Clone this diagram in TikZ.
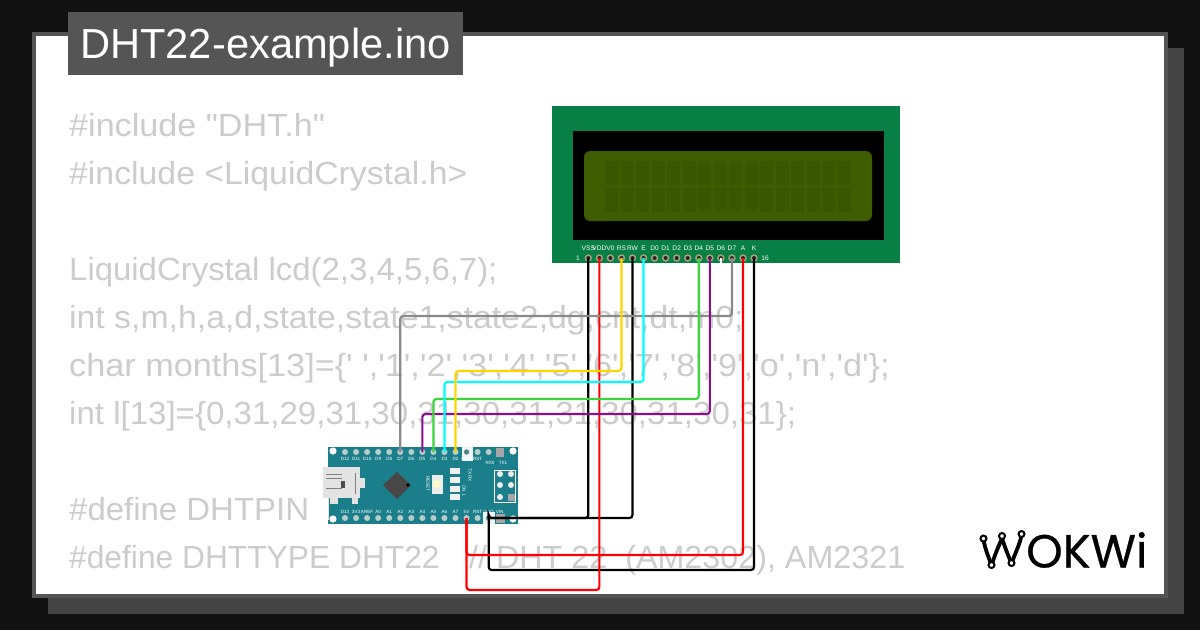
\documentclass[tikz,border=0pt]{standalone}
\usepackage{fontspec}
\setmainfont{Liberation Sans}
\newfontfamily\codefont{Liberation Sans}
\newfontfamily\logofont[FakeBold=0.6]{Poppins}
\definecolor{bgdark}{HTML}{111111}
\definecolor{shadowgray}{HTML}{444444}
\definecolor{framegray}{HTML}{555555}
\definecolor{codegray}{HTML}{CCCCCC}
\definecolor{lcdgreen}{HTML}{087F45}
\definecolor{lcdscreen}{HTML}{3E5C00}
\definecolor{lcdchar}{HTML}{3A5700}
\definecolor{padgold}{HTML}{A9A27C}
\definecolor{nanoteal}{HTML}{1A7F8A}
\definecolor{nanopadc}{HTML}{B9CCC9}
\definecolor{wiregray}{HTML}{8A8A8A}
\definecolor{wirepurple}{HTML}{8B0F8B}
\definecolor{wiregreen}{HTML}{3CD43C}
\definecolor{wireyellow}{HTML}{FFD500}
\definecolor{wirecyan}{HTML}{00FFFF}
\definecolor{wirered}{HTML}{FF0000}
\newcommand\cx[2]{\scalebox{#1}[1]{#2}}
\tikzset{
  codeline/.style={anchor=base west,inner sep=0pt,text=codegray,font=\codefont\fontsize{32}{32}\selectfont},
  wire/.style={line width=2.2pt,rounded corners=3pt},
  lcdlabel/.style={text=white,inner sep=0pt,font=\fontsize{6.6}{7}\selectfont},
  nanolabel/.style={text=white,inner sep=0pt,font=\fontsize{4.6}{5}\selectfont},
  lcdpad/.style={circle,fill=padgold,minimum size=7.5pt,inner sep=0pt},
  nanopad/.style={circle,fill=nanopadc,minimum size=6pt,inner sep=0pt},
  logostroke/.style={line width=3.8pt,line cap=round,line join=round}
}
\begin{document}
\begin{tikzpicture}[x=1pt,y=-1pt]
\useasboundingbox (0,0) rectangle (1200,630);
\fill[bgdark] (0,0) rectangle (1200,630);
\fill[shadowgray] (48,48) rectangle (1184,614);
\filldraw[fill=white,draw=framegray,line width=4pt] (34,34) rectangle (1166,596);
% code
\node[codeline] (c1) at (69,136) {\cx{1.067}{\#include "DHT.h"}};
\node[codeline] (c2) at (69,184) {\cx{1.056}{\#include <LiquidCrystal.h>}};
\node[codeline] (c3) at (69,280) {\cx{1.029}{LiquidCrystal lcd(2,3,4,5,6,7);}};
\node[codeline] (c4) at (69,328) {\cx{1.056}{int s,m,h,a,d,state,state1,state2,dg,cnt,dt,m0;}};
\node[codeline] (c5) at (69,376) {\cx{1.0705}{char months[13]=\{' ','1','2','3','4','5','6','7','8','9','o','n','d'\};}};
\node[codeline] (c6) at (69,424) {\cx{1.033}{int l[13]=\{0,31,29,31,30,31,30,31,31,30,31,30,31\};}};
\node[codeline] (c7) at (69,520) {\cx{1.03}{\#define DHTPIN}};
\node[codeline] (c8) at (69,568) {\cx{.992}{\#define DHTTYPE DHT22}};
\node[codeline] (c9) at (469,568) {\cx{1.009}{// DHT 22\ \ (AM2302), AM2321}};
% title
\fill[framegray] (68,12) rectangle (463,75);
\node[anchor=base west,inner sep=0pt,text=white,font=\fontsize{42}{42}\selectfont] (title) at (80,58) {\scalebox{.992}[1]{DHT22-example.ino}};
% LCD
\fill[lcdgreen] (552,106) rectangle (900,263);
\fill[black] (573,131) rectangle (884,240);
\fill[lcdscreen,rounded corners=6pt] (584,151) rectangle (872,221);
\foreach \c in {0,...,15}{
  \fill[lcdchar] ({605+\c*15.5},161) rectangle +(13.3,24);
  \fill[lcdchar] ({605+\c*15.5},188) rectangle +(13.3,23.5);
}
\foreach \i/\lab in {1/VSS,2/VDD,3/V0,4/RS,5/RW,6/E,7/D0,8/D1,9/D2,10/D3,11/D4,12/D5,13/D6,14/D7,15/A,16/K}{
  \node[lcdpad] (lcd\i) at ({588.3+(\i-1)*11.05},258) {};
  \fill[black!85] (lcd\i.center) circle (2pt);
  \node[lcdlabel] (lcdt\i) at ({588.3+(\i-1)*11.05},248.5) {\lab};
}
\node[lcdlabel] (lcdone) at (578,258) {1};
\node[lcdlabel] (lcdsix) at (765,258) {16};
% Nano
\fill[nanoteal] (328,447) rectangle (518,524);
\foreach \p in {(333,451),(513,451),(333,519),(513,519)} \fill[white] \p circle (3.6pt);
\fill[white!92!nanoteal] (462,447) rectangle (473,461);
\fill[white!92!nanoteal] (483,512) rectangle (495,524);
\foreach \i/\lab in {1/D12,2/D11,3/D10,4/D9,5/D8,6/D7,7/D6,8/D5,9/D4,10/D3,11/D2,12/GND,13/RST,14/,15/}{
  \node[nanopad] (top\i) at ({345+(\i-1)*11.05},452) {};
  \node[nanolabel] (topt\i) at ({345+(\i-1)*11.05},458.5) {\lab};
}
\foreach \i/\lab in {1/D13,2/3V3,3/AREF,4/A0,5/A1,6/A2,7/A3,8/A4,9/A5,10/A6,11/A7,12/5V,13/RST,14/GND,15/VIN}{
  \node[nanopad] (bot\i) at ({345+(\i-1)*11.05},518) {};
  \node[nanolabel] (bott\i) at ({345+(\i-1)*11.05},512) {\lab};
}
\fill[nanoteal!50!gray] (top12) circle (2.4pt);
\fill[nanoteal!50!gray] (bot14) circle (2.4pt);
\fill[gray!70] (495.5,448) rectangle (504,456.5);
\fill[gray!70] (496,514) rectangle (504.5,522.5);
\node[nanolabel] (rxl) at (490,462.5) {RX0};
\node[nanolabel] (txl) at (503,462.5) {TX1};
% USB
\fill[white!78!gray] (323,467) rectangle (360,498);
\fill[white!78!gray] (360,478) rectangle (365,488);
\fill[white!78!gray] (330,498) rectangle (338,504);
\fill[white!78!gray] (352,498) rectangle (358,504);
\draw[white!78!gray,line width=1pt] (328,498) -- (328,520);
\draw[gray,line width=1pt] (326,474) -- (342,474) (326,478) -- (342,478) (326,488) -- (342,488) (355,473) -- (355,494);
\fill[black!70] (341,481) rectangle (345,488);
% MCU
\fill[black!72] (397,472) -- (411,485) -- (397,499) -- (383,485) -- cycle;
\fill[black] (408,485) circle (1.8pt);
% reset
\fill[white!85!gray] (432,475) rectangle (443,494);
\fill[white!80!yellow] (436.7,484) circle (4pt);
\node[nanolabel,rotate=-90] (resetl) at (428,484) {RESET};
\foreach \y in {471,480,489,497} \fill[white!88!gray] (450,{\y-3}) rectangle (460,{\y+3});
\node[nanolabel,rotate=-90] (txrx) at (470,475) {TX RX};
\node[nanolabel,rotate=-90] (onl) at (464,491) {ON\ \ L};
% ICSP
\draw[white,line width=.6pt] (494,470) rectangle (515,502);
\foreach \x/\y in {500/474,511/474,500/485,511/485,500/497} \fill[white!85!gray] (\x,\y) circle (3pt);
\fill[gray!70] (507.5,493.5) rectangle (514.5,500.5);
% wires
\draw[wire,black] (lcd1.center) -- (lcd1 |- 0,518) -- (bot14 |- 0,518) -- (bot14.center);
\draw[wire,black] (lcd5.center) -- (lcd5 |- 0,518) -- (bot14 |- 0,518) -- (bot14.center);
\draw[wire,black] (lcd16.center) -- (lcd16 |- 0,570) -- (bot14 |- 0,570) -- (bot14.center);
\draw[wire,wirered] (bot12.center) -- (bot12 |- 0,555) -- (lcd15 |- 0,555) -- (lcd15.center);
\draw[wire,wirered] (bot12.center) -- (bot12 |- 0,590) -- (lcd2 |- 0,590) -- (lcd2.center);
\draw[wire,wiregray] (lcd14.center) -- (lcd14 |- 0,316) -- (top6 |- 0,316) -- (top6.center);
\draw[wire,wirepurple] (lcd12.center) -- (lcd12 |- 0,414) -- (top8 |- 0,414) -- (top8.center);
\draw[wire,wiregreen] (lcd11.center) -- (lcd11 |- 0,399) -- (top9 |- 0,399) -- (top9.center);
\draw[wire,wirecyan] (lcd6.center) -- (lcd6 |- 0,382) -- (top10 |- 0,382) -- (top10.center);
\draw[wire,wireyellow] (lcd4.center) -- (lcd4 |- 0,371) -- (top11 |- 0,371) -- (top11.center);
\draw[line width=2pt,white] (lcd13.center) -- +(0,5);
% logo
\draw[logostroke] (983.5,540) .. controls (986,552) and (989,558) .. (991.5,565);
\draw[logostroke] (991.5,565) .. controls (996,552) and (999,545) .. (1002,538.5);
\draw[logostroke] (1002,538.5) .. controls (1006,550) and (1009,558) .. (1011.5,563);
\draw[logostroke] (1011.5,563) .. controls (1016,552) and (1020,543) .. (1021.5,535.5);
\foreach \p in {(983.5,538.5),(991.5,565),(1002,536),(1011.5,563),(1021.5,534)}
  \filldraw[fill=white,draw=black,line width=2pt] \p circle (3pt);
\node[anchor=base west,inner sep=0pt,text=black,font=\logofont\fontsize{46.5}{46.5}\selectfont] (logo) at (1026,567.5) {OKWi};
\end{tikzpicture}
\end{document}
